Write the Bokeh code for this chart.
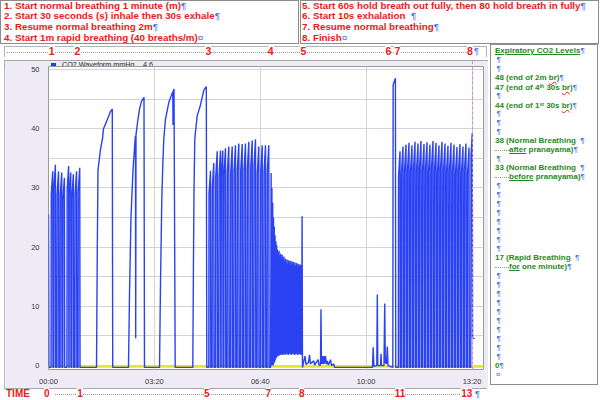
import html as _html
from bokeh.plotting import figure
from bokeh.models import BoxAnnotation, Span, FixedTicker, Range1d, Div
from bokeh.layouts import row, column
from bokeh.embed import file_html
from bokeh.resources import INLINE

# ================= data =================
time_ticks = [0, 200, 400, 600, 800]
time_tick_labels = ["00:00", "03:20", "06:40", "10:00", "13:20"]
co2_ticks = [0, 5, 10, 15, 20, 25, 30, 35, 40, 45, 50]
co2_tick_labels = ["0", "", "10", "", "20", "", "30", "", "40", "", "50"]

baseline = -0.3

# (1) start of trace + normal breathing, 1 minute
start_t = [0.0, 0.8]
start_v = [25.5, baseline]
normal1_t = [8, 13, 19, 25, 30, 38, 42, 47, 53, 59]
normal1_v = [32.8, 33.9, 32.8, 32.6, 31.7, 33.7, 32.6, 32.3, 32.8, 33.4]

# (2) four cycles of 30 s inhale / 30 s exhale
hump1_t = [90.7, 92.2, 93.5, 98.2, 102.0, 103.9, 111.4, 117.1, 120.5, 121.3]
hump1_v = [baseline, 20, 33, 36.5, 38.3, 40.0, 41.6, 42.9, 43.3, baseline]
hump2_t = [151.1, 153.0, 155.8, 159.6, 163.4, 164.3, 164.7, 165.3, 168.1, 171.9, 175.7, 180.4, 181.3]
hump2_v = [baseline, 12, 25, 33, 38, 38.8, 4.6, 39, 41, 43.3, 44.6, 45.3, baseline]
hump3_t = [209.7, 211.6, 214.0, 215.9, 217.8, 221.0, 227.2, 233.7, 234.8, 235.2, 235.7, 237.1, 239.3]
hump3_v = [baseline, 14, 28, 34, 38.3, 41.6, 44.4, 46.0, 46.2, 40.6, 46.4, 46.7, baseline]
hump4_t = [272.6, 273.7, 274.8, 276.3, 280.9, 287.1, 293.4, 298.1, 299.0]
hump4_v = [baseline, 16, 29, 38.3, 42.2, 44.0, 46.5, 47.1, baseline]

# (3) normal breathing, 2 minutes
normal2_t = [306.0, 312.2, 318.7, 324.9, 329.2, 334.3, 340.6, 347.0, 353.2, 359.5,
             365.9, 372.1, 378.4, 384.8, 391.0, 397.2, 403.7, 409.9, 416.1]
normal2_v = [32.9, 34.2, 36.2, 36.3, 36.3, 36.7, 37.0, 37.0, 37.2, 37.5,
             37.4, 37.5, 37.8, 38.0, 38.2, 37.0, 37.2, 37.2, 37.2]

# (4) rapid breathing, 40 breaths / minute
rapid_t = [420.5, 422.0, 423.5, 425.0, 426.5, 428.0, 429.5, 431.0, 432.5, 434.0,
           435.5, 437.0, 438.5, 440.0, 441.5, 443.0, 444.5, 446.0, 447.5, 449.0,
           450.5, 452.0, 453.5, 455.0, 456.5, 458.0, 459.5, 461.0, 462.5, 464.0,
           465.5, 467.0, 468.5, 470.0, 471.5, 473.0, 474.5, 476.0, 477.5, 479.0]
rapid_v = [32.5, 30.0, 27.5, 25.0, 23.5, 22.0, 21.0, 20.3, 19.6, 19.0,
           19.4, 18.6, 18.9, 18.2, 18.7, 17.9, 18.4, 17.6, 18.1, 17.4,
           17.9, 17.2, 17.8, 17.3, 17.7, 17.0, 17.6, 17.1, 17.5, 16.9,
           17.4, 16.8, 17.3, 16.9, 17.2, 16.7, 17.1, 16.8, 17.0, 25.2]
rapid_trough_v = [0.0, 0.0, 0.0, 0.3, 0.6, 1.0, 1.3, 1.5, 1.6, 1.8,
                  1.7, 1.9, 1.8, 2.0, 1.8, 1.9, 2.1, 1.8, 2.0, 1.9,
                  2.1, 1.8, 2.0, 1.9, 2.2, 1.8, 2.0, 1.9, 2.1, 1.8,
                  2.0, 1.9, 2.1, 1.8, 2.0, 1.9, 2.0, 1.8, 1.9, baseline]

# (5) breath hold, (6) 10 s exhalation
hold_t = [484.5, 486.4, 491.1, 493.0, 494.9, 501.1, 502.5, 509.4, 510.9, 513.8,
          514.7, 515.6, 516.9, 518.4, 520.0, 521.3, 523.2, 525.1, 526.4, 528.9,
          532.7, 534.6, 538.9, 540.3, 612.0, 613.3, 614.5, 620.1, 621.1, 622.0,
          627.1, 628.1, 629.0, 633.7, 635.1, 636.2, 638.5, 640.0, 641.3, 650.4,
          651.0, 655.3, 655.9]
hold_v = [1.6, 0.2, 0.5, 1.8, 0.3, 0.8, 0.1, 1.0, 0.1, 0.1,
          9.5, 0.3, 1.6, 0.3, 1.6, 0.3, 1.6, 0.2, 0.8, 0.1,
          1.0, 0.0, 0.3, -0.3, -0.3, 3.1, -0.1, 0.0, 12.0, 0.0,
          0.0, 2.0, 0.0, 0.0, 10.5, 0.5, 0.3, 3.2, 0.0, -0.3,
          47.4, 48.5, -0.3]

# (7) normal breathing resumed
normal3_t = [664.0, 669.6, 675.3, 681.0, 686.6, 692.3, 698.0, 703.6, 709.3, 715.0,
             720.6, 726.3, 732.0, 737.6, 743.3, 749.0, 754.6, 760.3, 766.0, 771.6,
             777.3, 782.9, 788.6, 794.3]
normal3_v = [36.2, 37.0, 37.3, 37.6, 37.2, 37.8, 37.5, 37.9, 37.4, 37.7,
             37.3, 37.9, 37.6, 37.2, 37.8, 37.5, 37.1, 37.6, 37.3, 36.9,
             37.4, 37.0, 37.5, 36.8]

# (8) finish
end_t = [797.6, 798.2, 800.4, 801.0, 805.0]
end_v = [baseline, 35.5, 39.2, 4.6, 4.6]
finish_t = 801

step_labels = ["1", "2", "3", "4", "5", "6", "7", "8"]
minute_labels = ["0", "1", "5", "7", "8", "11", "13"]

protocol_left = ["1. Start normal breathing 1 minute (m)",
                 "2. Start 30 seconds (s) inhale then 30s exhale",
                 "3. Resume normal breathing 2m",
                 "4. Start 1m rapid breathing (40 breaths/m)"]
protocol_right = ["5. Start 60s hold breath out fully, then 80 hold breath in fully",
                  "6. Start 10s exhalation\u00a0\u00a0",
                  "7. Resume normal breathing",
                  "8. Finish"]
protocol_ends = ["\u00b6", "\u00b6", "\u00b6", "\u00a4"]

# right-hand notes: (line number in the panel, indented?, text segments)
co2_rows = [
    (0, False, [("Expiratory CO2 Levels", "ul")]),
    (3, False, [("48 (end of 2m ", "n"), ("br", "sq"), (")", "n")]),
    (4, False, [("47 (end of 4", "n"), ("th", "sup"), (" 30s ", "n"), ("br", "sq"), (")", "n")]),
    (6, False, [("44 (end of 1", "n"), ("st", "sup"), (" 30s ", "n"), ("br", "sq"), (")", "n")]),
    (10, False, [("38 (Normal Breathing\u00a0\u00a0", "n")]),
    (11, True, [("after", "ul"), (" pranayama)", "n")]),
    (13, False, [("33 (Normal Breathing\u00a0\u00a0", "n")]),
    (14, True, [("before", "ul"), (" pranayama)", "n")]),
    (23, False, [("17 (Rapid Breathing\u00a0\u00a0", "n")]),
    (24, True, [("for", "ul"), (" one minute)", "n")]),
    (35, False, [("0", "n")]),
]
co2_blank_rows = [1, 2, 5, 7, 8, 9, 12] + list(range(15, 23)) + list(range(25, 35))
co2_end_row = 36

# ================= build waveform =================
def breaths(peak_t, peak_v, rise=2.8, fall=0.6):
    ts, vs = [], []
    for tp, v in zip(peak_t, peak_v):
        ts += [tp - rise - 0.4, tp - rise, tp, tp + fall]
        vs += [baseline, 0.88 * v, v, baseline]
    return ts, vs

def rapid():
    ts, vs = [rapid_t[0] - 1.0], [baseline]
    for tp, v, tr in zip(rapid_t, rapid_v, rapid_trough_v):
        ts += [tp, tp + 0.75]
        vs += [v, tr]
    return ts, vs

n1 = breaths(normal1_t, normal1_v)
n2 = breaths(normal2_t, normal2_v)
rp = rapid()
n3 = breaths(normal3_t, normal3_v)

wave_t = (start_t + n1[0] + hump1_t + hump2_t + hump3_t + hump4_t + n2[0] + rp[0]
          + hold_t + n3[0] + end_t)
wave_v = (start_v + n1[1] + hump1_v + hump2_v + hump3_v + hump4_v + n2[1] + rp[1]
          + hold_v + n3[1] + end_v)

# ================= colours / fonts =================
RED = "#f01818"
GREEN = "#1f8a22"
PIL = "#3a6ce6"
GREY = "#8c8c8c"
LAV = "#eeebf6"
BLUE = "#2a42f2"
FONT = "'Liberation Sans', Arial, sans-serif"

# ================= main chart =================
PX_PER_S = 0.5294
X1 = 435 / PX_PER_S            # frame is 435 px wide
Y0 = -4 / 6.08                 # frame is 311 px high, 6.08 px per mmHg
Y1 = 50 + 3 / 6.08

p = figure(width=483, height=322, output_backend="svg", toolbar_location=None, title=None,
           x_range=Range1d(0, X1), y_range=Range1d(Y0, Y1),
           min_border_left=43, min_border_right=5, min_border_top=0, min_border_bottom=11,
           background_fill_color="white", border_fill_color=LAV,
           outline_line_color="#9a9a9a")

p.xaxis.ticker = FixedTicker(ticks=time_ticks)
p.xaxis.major_label_overrides = dict(zip(time_ticks, time_tick_labels))
p.yaxis.ticker = FixedTicker(ticks=co2_ticks)
p.yaxis.major_label_overrides = dict(zip(co2_ticks, co2_tick_labels))
for ax in (p.xaxis, p.yaxis):
    ax.axis_line_color = None
    ax.major_tick_line_color = None
    ax.minor_tick_line_color = None
    ax.major_label_text_font = "Liberation Sans"
    ax.major_label_text_font_size = "7.5px"
    ax.major_label_text_color = "#3a3a3a"
p.xaxis.major_label_standoff = 1
p.yaxis.major_label_standoff = 3
p.xgrid.ticker = FixedTicker(ticks=time_ticks)
p.ygrid.ticker = FixedTicker(ticks=co2_ticks)
p.grid.grid_line_color = "#d4d4d4"

p.add_layout(BoxAnnotation(bottom=-0.35, top=0.1, fill_color="#e6e62a", fill_alpha=1,
                           line_alpha=0, level="underlay"))

for seg in (n1, n2, n3):
    p.varea(x=seg[0], y1=baseline, y2=seg[1], fill_color=BLUE, fill_alpha=0.28)
p.line(wave_t, wave_v, line_color=BLUE, line_width=1.4)

p.add_layout(Span(location=finish_t, dimension="height", line_color="#d48fd4",
                  line_dash="3 2", line_width=1.2))

# ================= HTML pieces =================
def esc(s):
    return _html.escape(s)

def pil(ch="\u00b6"):
    return f'<span style="color:{PIL};font-weight:normal">{ch}</span>'

def absd(left, top, inner, extra=""):
    return (f'<div style="position:absolute;left:{left}px;top:{top}px;'
            f'white-space:nowrap;{extra}">{inner}</div>')

def make_div(w, h, inner, extra=""):
    box = (f'<div style="position:relative;width:{w}px;height:{h}px;overflow:hidden;'
           f'font-family:{FONT};{extra}">{inner}</div>')
    return Div(text=box, width=w, height=h, margin=0)

# top protocol boxes
def protocol_div(lines, left_pad):
    tops = [-0.5, 10.3, 21.1, 31.8]
    rows = "".join(absd(left_pad, t, esc(s) + pil(e), "line-height:11px;")
                   for s, e, t in zip(lines, protocol_ends, tops))
    frame = absd(0, 0, "", f"width:299px;height:44px;box-sizing:border-box;border:1px solid {GREY};")
    return make_div(300, 44, frame + rows,
                    f"font-size:9.8px;font-weight:bold;color:{RED};background:white;")

top_left = protocol_div(protocol_left, 4)
top_right = protocol_div(protocol_right, 2)

EDGE = "#b4b4b4"

# step-marker row
step_x = [51.7, 77.3, 208.3, 270.7, 303.3, 388.3, 397.3, 470]
inner = absd(4, 2, "", f"width:483px;height:11px;border:1px solid {EDGE};border-bottom:none;box-sizing:border-box;")
inner += absd(7, 8, "", "width:461px;border-top:1px dotted #9a9a9a;")
for s, x in zip(step_labels, step_x):
    inner += absd(x - 10, 0.5, f'<span style="background:white">{s}</span>',
                  "width:20px;text-align:center;line-height:12px;")
inner += absd(474, 1, pil(), "line-height:12px;font-size:9px;")
marker_div = make_div(488, 13, inner, f"font-size:10.5px;font-weight:bold;color:{RED};background:white;")

# chart header band
inner = absd(4, 0, "", f"width:484px;height:9px;background:{LAV};border-top:1px solid #a8a8a8;"
                       f"border-left:1px solid {EDGE};box-sizing:border-box;")
inner += absd(51, 3, "", "width:5px;height:5px;background:#1f3fe0;")
inner += absd(62, 0.3, "CO2 Waveform mmHg_", "line-height:9px;")
inner += absd(143, 0.3, "4.6", "line-height:9px;")
inner += absd(472, 1, "", "height:8px;border-left:1px dashed #d48fd4;")
header_div = make_div(488, 9, inner, "font-size:7.2px;color:#222;background:white;")

# thin white margin with the container's left edge
left_edge = Div(text=f'<div style="width:5px;height:322px;box-sizing:border-box;'
                     f'border-right:1px solid {EDGE};background:white"></div>',
                width=5, height=322, margin=0)

# right-hand panel
PITCH = 9.0
FIRST = 50.0 - 44.0            # centre of first line inside the panel
PS = 8.0
def row_top(i):
    return FIRST + i * PITCH - 4.5

inner = absd(2, 0, "", f"width:108px;height:341px;box-sizing:border-box;border:1px solid {GREY};")
for i in co2_blank_rows:
    inner += absd(8.5, row_top(i), pil(), "line-height:9px;")
for i, indent, segs in co2_rows:
    html_row = ""
    if indent:
        html_row += ('<span style="display:inline-block;width:14px;height:5px;'
                     'border-bottom:1px dotted #9a9a9a;vertical-align:1px"></span>')
    for s, kind in segs:
        if kind == "ul":
            html_row += f'<span style="text-decoration:underline">{esc(s)}</span>'
        elif kind == "sq":
            html_row += f'<span style="text-decoration:underline wavy #e02020">{esc(s)}</span>'
        elif kind == "sup":
            html_row += f'<span style="font-size:5px;vertical-align:2px">{esc(s)}</span>'
        else:
            html_row += esc(s)
    html_row += pil()
    inner += absd(7, row_top(i), html_row, "line-height:9px;")
inner += absd(8, row_top(co2_end_row), pil("\u00a4"), "line-height:9px;")
panel_div = make_div(112, 344, inner, f"font-size:{PS}px;font-weight:bold;color:{GREEN};background:white;")

# TIME row
time_x = [46.7, 80, 206.7, 268.3, 301.7, 400, 466.7]
inner = absd(4, 0, "", "width:483px;border-top:1px solid #a8a8a8;")
inner += absd(55, 6, "", "width:407px;border-top:1px dotted #9a9a9a;")
inner += absd(6, 0, "TIME", "line-height:12px;")
for s, x in zip(minute_labels, time_x):
    inner += absd(x - 10, 0, f'<span style="background:white">{s}</span>',
                  "width:20px;text-align:center;line-height:12px;")
inner += absd(475, 0, pil(), "line-height:12px;font-size:9px;")
time_div = make_div(600, 12, inner, f"font-size:10px;font-weight:bold;color:{RED};background:white;")

layout = column(
    row(top_left, top_right, spacing=0),
    row(column(marker_div, header_div, row(left_edge, p, spacing=0), spacing=0),
        panel_div, spacing=0),
    time_div,
    spacing=0,
)

open("out.html", "w").write(file_html(layout, INLINE, title="CO2 waveform"))
